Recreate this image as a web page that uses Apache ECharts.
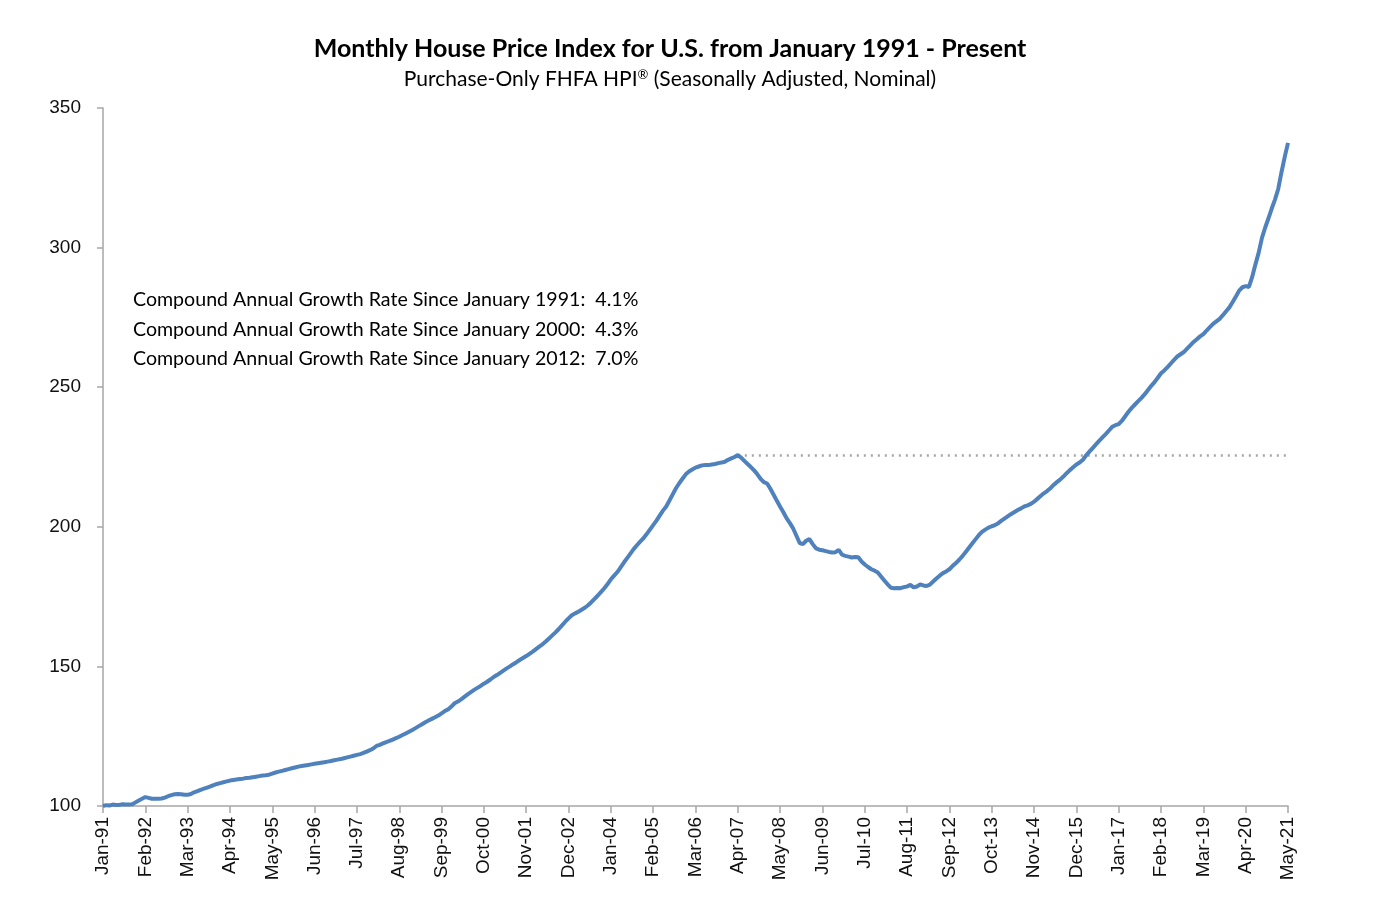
<!DOCTYPE html>
<html>
<head>
<meta charset="utf-8">
<script src="https://cdn.jsdelivr.net/npm/echarts@6/dist/echarts.min.js"></script>
<style>html,body{margin:0;padding:0;background:#fff;}#chart{width:1400px;height:910px;}</style>
</head>
<body>
<div id="chart"></div>
<script>
// Start month of the series and month names for labels
const startYear = 1991;
const monthNames = ['Jan','Feb','Mar','Apr','May','Jun','Jul','Aug','Sep','Oct','Nov','Dec'];

// Monthly index values, one row per year (Jan..Dec)
const hpi1991 = [100.0,100.3,100.2,100.5,100.4,100.4,100.6,100.5,100.5,100.6,101.3,102.0];
const hpi1992 = [102.6,103.2,102.9,102.6,102.6,102.6,102.7,103.0,103.5,103.9,104.2,104.3];
const hpi1993 = [104.2,104.0,104.0,104.3,104.9,105.3,105.8,106.2,106.6,107.0,107.5,107.9];
const hpi1994 = [108.2,108.5,108.8,109.1,109.3,109.5,109.7,109.8,110.0,110.1,110.3,110.5];
const hpi1995 = [110.7,110.9,111.0,111.2,111.6,112.0,112.3,112.6,112.9,113.2,113.5,113.8];
const hpi1996 = [114.1,114.3,114.5,114.7,114.9,115.1,115.3,115.5,115.7,115.9,116.1,116.4];
const hpi1997 = [116.6,116.8,117.1,117.4,117.7,118.0,118.3,118.6,119.0,119.5,120.0,120.6];
const hpi1998 = [121.5,121.9,122.4,122.9,123.3,123.8,124.3,124.8,125.4,126.0,126.6,127.2];
const hpi1999 = [127.9,128.6,129.3,130.0,130.6,131.2,131.8,132.4,133.2,134.0,134.6,135.6];
const hpi2000 = [136.8,137.4,138.2,139.1,140.0,140.8,141.6,142.3,143.0,143.8,144.5,145.3];
const hpi2001 = [146.2,146.9,147.7,148.5,149.3,150.0,150.8,151.5,152.3,153.0,153.7,154.5];
const hpi2002 = [155.3,156.2,157.1,157.9,158.9,160.0,161.1,162.2,163.4,164.7,166.0,167.2];
const hpi2003 = [168.3,169.0,169.6,170.3,171.0,171.9,173.0,174.2,175.4,176.7,178.0,179.5];
const hpi2004 = [181.2,182.5,183.8,185.5,187.2,188.8,190.4,192.0,193.4,194.7,195.9,197.4];
const hpi2005 = [199.0,200.6,202.2,204.0,205.8,207.3,209.4,211.6,213.8,215.6,217.2,218.8];
const hpi2006 = [219.8,220.5,221.2,221.6,222.0,222.1,222.1,222.3,222.5,222.8,223.0,223.3];
const hpi2007 = [224.0,224.5,225.0,225.7,224.8,223.6,222.5,221.4,220.2,218.8,217.2,216.0];
const hpi2008 = [215.5,213.6,211.5,209.3,207.2,205.2,203.0,201.3,199.4,196.8,194.2,193.8];
const hpi2009 = [195.0,195.6,193.8,192.3,191.8,191.6,191.3,191.0,190.8,190.9,191.7,190.0];
const hpi2010 = [189.6,189.3,189.0,189.2,189.1,187.6,186.5,185.6,184.8,184.3,183.6,182.2];
const hpi2011 = [180.8,179.4,178.2,178.0,178.1,178.0,178.4,178.6,179.2,178.3,178.6,179.4];
const hpi2012 = [179.0,178.8,179.3,180.4,181.5,182.5,183.4,184.0,184.8,186.0,187.0,188.2];
const hpi2013 = [189.5,191.0,192.5,194.0,195.5,197.0,198.2,199.0,199.7,200.2,200.6,201.3];
const hpi2014 = [202.2,203.0,203.8,204.6,205.3,206.0,206.6,207.3,207.7,208.2,209.0,210.0];
const hpi2015 = [211.0,212.0,212.8,213.8,215.0,216.0,216.9,218.0,219.2,220.3,221.3,222.3];
const hpi2016 = [223.0,224.0,225.6,226.9,228.2,229.5,230.8,232.0,233.2,234.5,235.8,236.4];
const hpi2017 = [236.8,238.0,239.6,241.2,242.6,243.8,245.0,246.2,247.5,249.0,250.5,251.8];
const hpi2018 = [253.4,255.0,256.0,257.2,258.5,259.8,261.0,261.8,262.6,263.8,265.0,266.2];
const hpi2019 = [267.2,268.2,269.0,270.3,271.5,272.7,273.6,274.5,275.8,277.2,278.6,280.5];
const hpi2020 = [282.5,284.6,285.8,286.2,285.9,289.5,294.0,298.2,303.5,307.2,310.5,314.0];
const hpi2021 = [317.2,321.0,327.0,332.5,337.5];

const yTicks = [100,150,200,250,300,350];
const cagrLines = [
  ['Compound Annual Growth Rate Since January 1991:', '4.1%'],
  ['Compound Annual Growth Rate Since January 2000:', '4.3%'],
  ['Compound Annual Growth Rate Since January 2012:', '7.0%']
];

const values = [].concat(hpi1991,hpi1992,hpi1993,hpi1994,hpi1995,hpi1996,hpi1997,hpi1998,hpi1999,hpi2000,
  hpi2001,hpi2002,hpi2003,hpi2004,hpi2005,hpi2006,hpi2007,hpi2008,hpi2009,hpi2010,
  hpi2011,hpi2012,hpi2013,hpi2014,hpi2015,hpi2016,hpi2017,hpi2018,hpi2019,hpi2020,hpi2021);
const categories = values.map((v, i) => {
  const y = startYear + Math.floor(i / 12);
  return monthNames[i % 12] + '-' + String(y % 100).padStart(2, '0');
});
let peakIdx = 0;
for (let i = 0; i < values.length; i++) { if (i < 250 && values[i] > values[peakIdx]) peakIdx = i; }
const peakVal = values[peakIdx];

const chart = echarts.init(document.getElementById('chart'), null, {renderer: 'canvas'});
const axisFont = 'Liberation Sans, Arial, Helvetica, sans-serif';
const textFont = 'Lato, "Open Sans", sans-serif';

chart.setOption({
  animation: false,
  backgroundColor: '#ffffff',
  title: [
    {
      text: 'Monthly House Price Index for U.S. from January 1991 - Present',
      left: 665, top: 31, textAlign: 'center',
      textStyle: {fontFamily: textFont, fontWeight: 'bold', fontSize: 25, color: '#000'}
    },
    {
      text: 'Purchase-Only FHFA HPI{sup|®} (Seasonally Adjusted, Nominal)',
      left: 665, top: 63, textAlign: 'center',
      textStyle: {fontFamily: textFont, fontWeight: 'normal', fontSize: 21, color: '#000',
        rich: {sup: {fontFamily: textFont, fontSize: 13, color: '#000', padding: [0, 0, 9, 0]}}}
    }
  ],
  grid: {left: 103, right: 112, top: 108, bottom: 104, containLabel: false},
  xAxis: {
    type: 'category',
    data: categories,
    boundaryGap: false,
    axisLine: {show: true, lineStyle: {color: '#a6a6a6', width: 1.5}},
    axisTick: {show: true, interval: 12, length: 7, lineStyle: {color: '#a6a6a6', width: 1.5}},
    axisLabel: {interval: 12, rotate: 90, fontFamily: axisFont, fontSize: 19, color: '#111', margin: 11},
    splitLine: {show: false}
  },
  yAxis: {
    type: 'value',
    min: 100, max: 350, interval: 50,
    axisLine: {show: true, lineStyle: {color: '#a6a6a6', width: 1.5}},
    axisTick: {show: true, length: 6, lineStyle: {color: '#a6a6a6', width: 1.5}},
    axisLabel: {fontFamily: axisFont, fontSize: 19, color: '#111', margin: 22},
    splitLine: {show: false}
  },
  series: [{
    type: 'line',
    data: values,
    showSymbol: false,
    symbol: 'none',
    smooth: false,
    lineStyle: {color: '#4f81bd', width: 4},
    z: 3,
    markLine: {
      silent: true,
      symbol: ['none', 'none'],
      label: {show: false},
      lineStyle: {color: '#a6a6a6', type: [2, 5], width: 2.5},
      z: 2,
      data: [[{coord: [peakIdx, peakVal]}, {coord: [values.length - 1, peakVal]}]]
    }
  }],
  graphic: cagrLines.map((ln, k) => ({
    type: 'text',
    left: 133, top: 290 + k * 29.5,
    style: {text: ln[0] + '  ' + ln[1], font: '19.6px Lato, "Open Sans", sans-serif', fill: '#000'}
  }))
});
</script>
</body>
</html>
